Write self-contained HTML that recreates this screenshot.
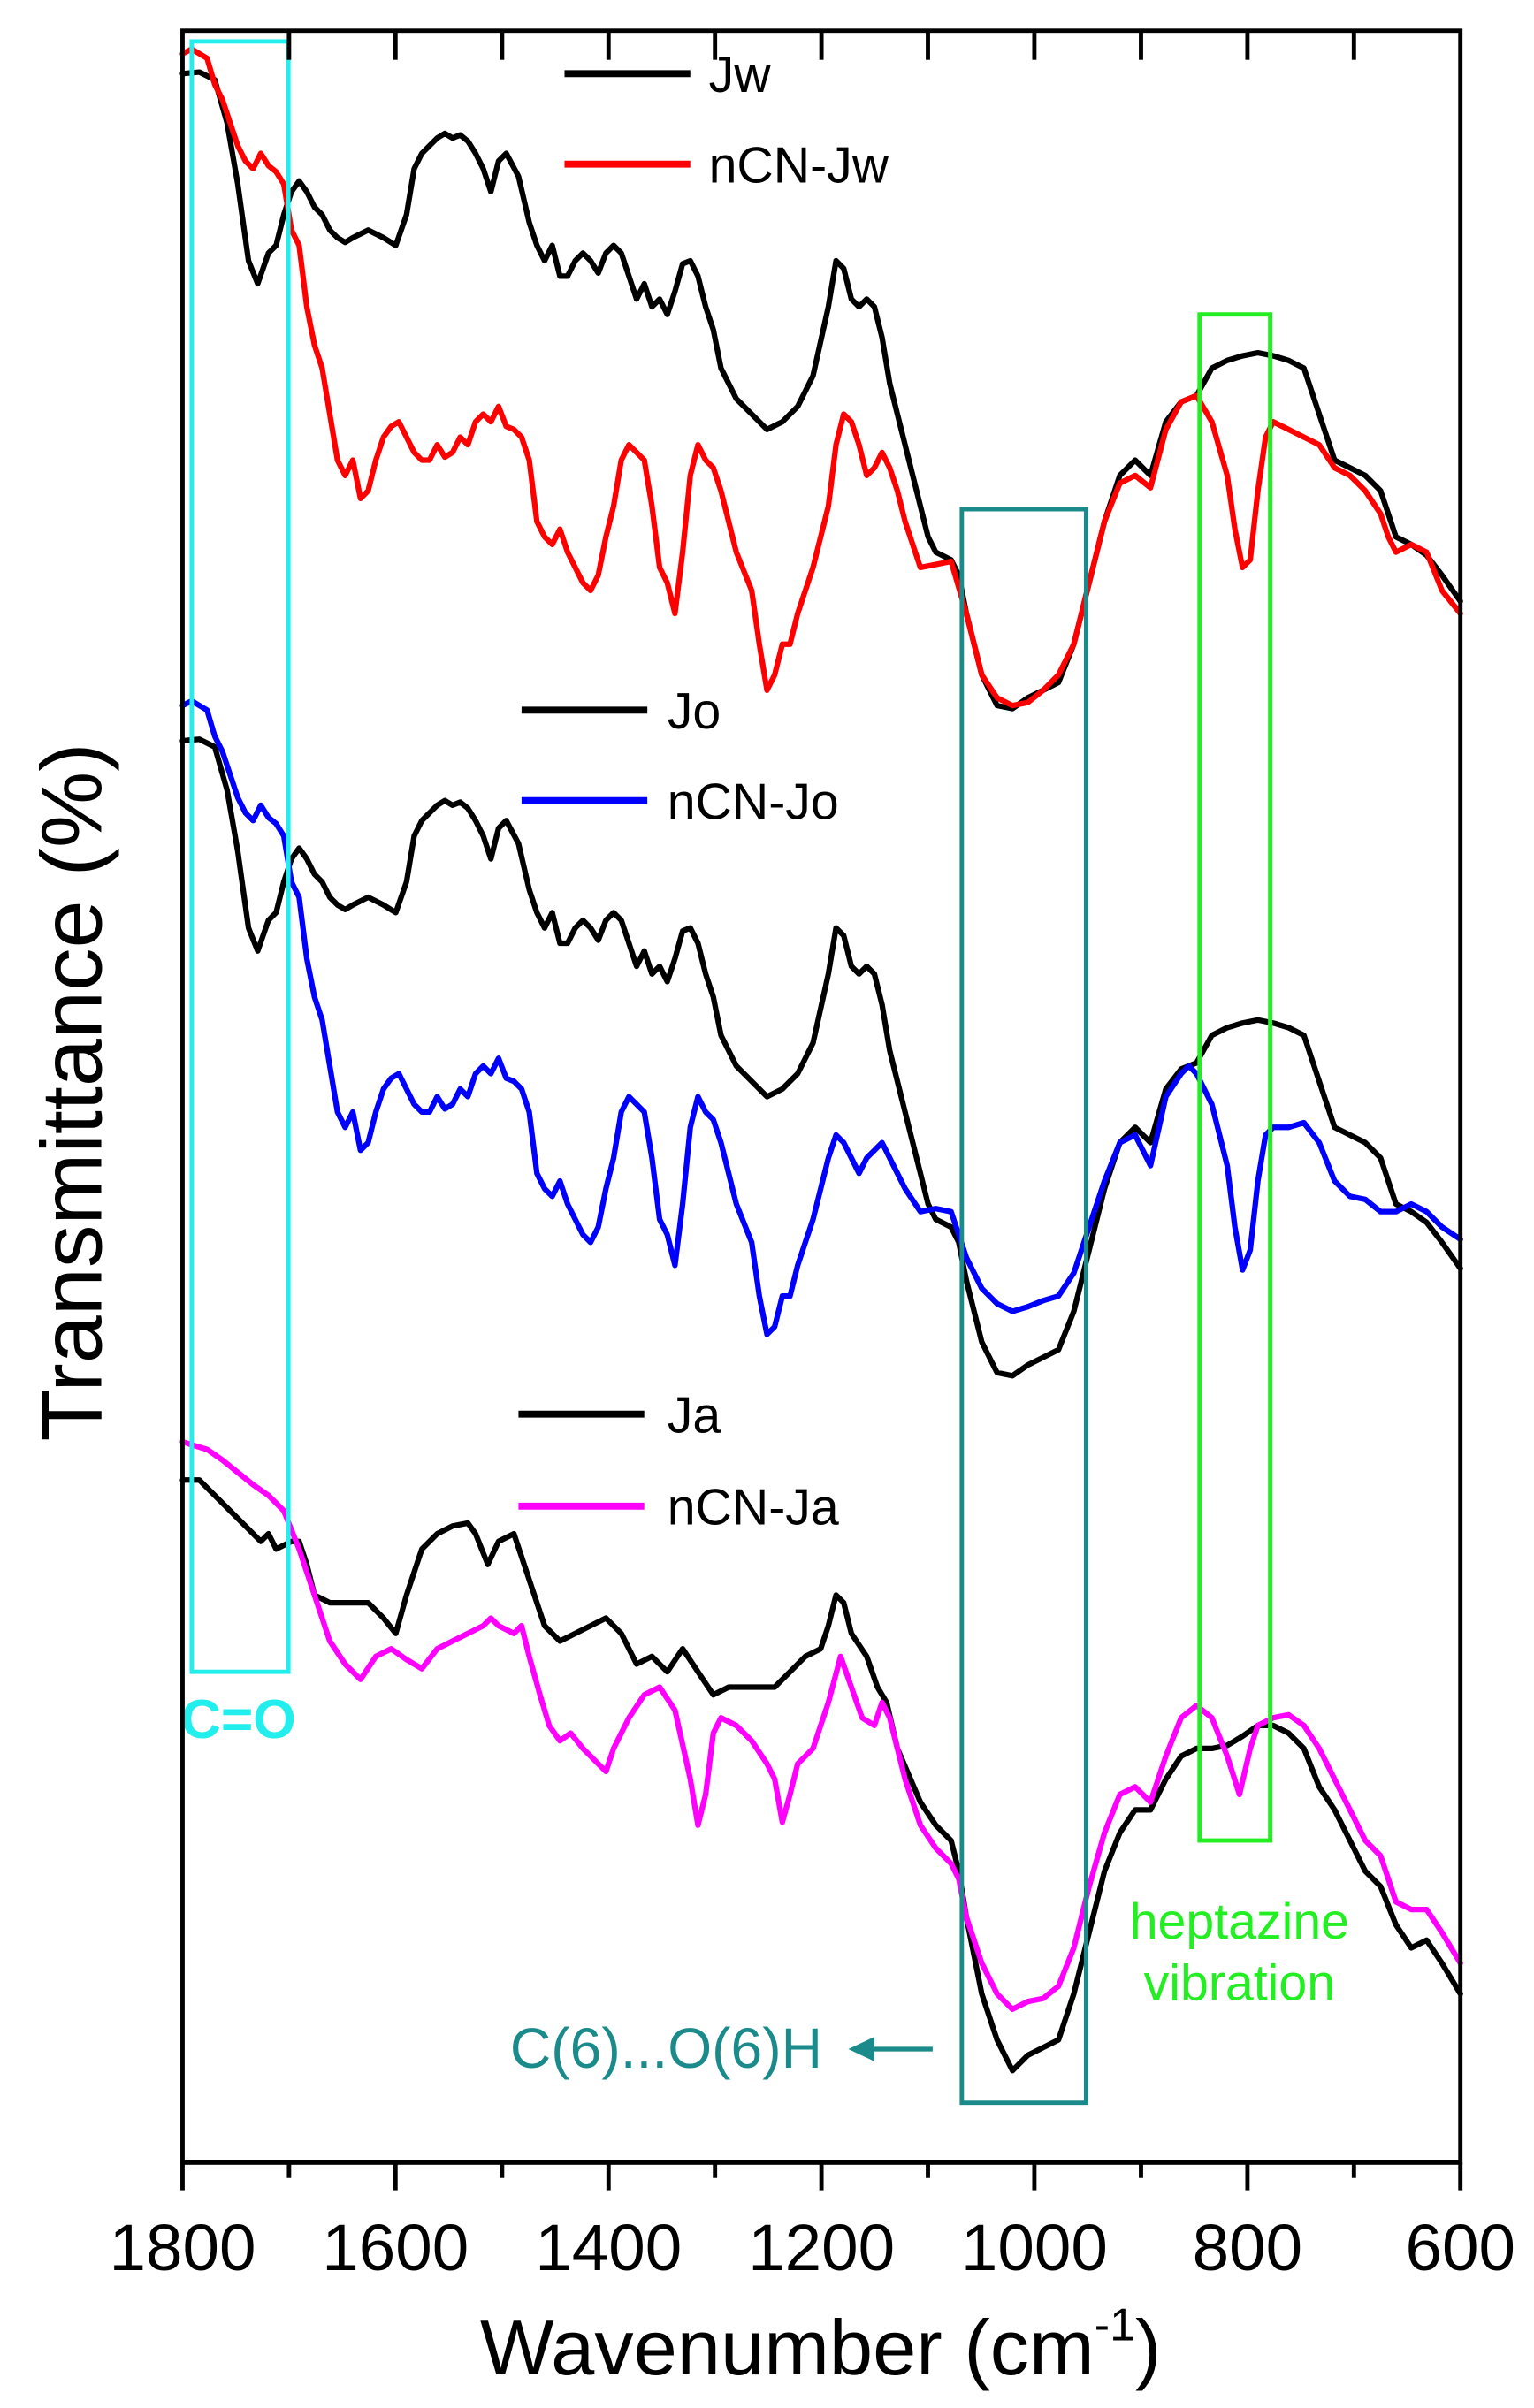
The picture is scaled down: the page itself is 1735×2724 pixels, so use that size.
<!DOCTYPE html>
<html><head><meta charset="utf-8"><style>
html,body{margin:0;padding:0;background:#fff;}
svg{display:block;}
text{font-family:"Liberation Sans",Arial,sans-serif;}
</style></head><body>
<svg width="1735" height="2724" viewBox="0 0 1000 1570" xmlns="http://www.w3.org/2000/svg">
<g fill="none" stroke-linejoin="round" stroke-linecap="round" stroke-width="3.6">
<polyline id="jw" stroke="#000" points="119,48 130,47 140,52 148,80 155,120 162,170 168,185 175,165 180,160 185,140 190,125 195,118 200,125 205,135 210,140 215,150 220,155 225,158 230,155 240,150 250,155 258,160 265,140 270,110 275,100 280,95 285,90 290,87 295,90 300,88 305,92 310,100 315,110 320,125 325,105 330,100 338,115 345,145 350,160 355,170 360,160 365,180 370,180 375,170 380,165 385,170 390,178 395,165 400,160 405,165 410,180 415,195 420,185 425,200 430,195 435,205 440,190 445,172 450,170 455,180 460,200 465,215 470,240 480,260 490,270 500,280 510,275 520,265 530,245 540,200 545,170 550,175 555,195 560,200 565,195 570,200 575,220 580,250 590,290 600,330 605,350 610,360 620,365 625,375 630,400 640,440 650,460 660,462 670,455 680,450 690,445 700,420 710,380 720,340 730,310 740,300 750,310 760,275 770,262 780,258 790,240 800,235 810,232 820,230 830,232 840,235 850,240 860,270 870,300 880,305 890,310 900,320 910,350 920,355 930,362 940,375 952,392"/>
<polyline stroke="#ff0000" points="119,35 125,32 130,35 135,38 140,55 145,65 150,80 155,95 160,105 165,110 170,100 175,108 180,112 185,120 190,150 195,160 200,200 205,225 210,240 215,270 220,300 225,310 230,300 235,325 240,320 245,300 250,285 255,278 260,275 265,285 270,295 275,300 280,300 285,290 290,298 295,295 300,285 305,290 310,275 315,270 320,275 325,265 330,278 335,280 340,285 345,300 350,340 355,350 360,355 365,345 370,360 375,370 380,380 385,385 390,375 395,350 400,330 405,300 410,290 415,295 420,300 425,330 430,370 435,380 440,400 445,360 450,310 455,290 460,300 465,305 470,320 480,360 490,385 495,420 500,450 505,440 510,420 515,420 520,400 530,370 540,330 545,290 550,270 555,275 560,290 565,310 570,305 575,295 580,305 585,320 590,340 600,370 610,368 620,366 630,400 640,440 650,455 660,460 670,458 680,450 690,440 700,420 710,380 720,340 730,315 740,310 750,318 760,280 770,262 780,258 790,275 800,310 805,345 810,370 815,365 820,320 825,285 830,275 840,280 850,285 860,290 870,305 880,310 890,320 900,335 905,350 910,360 920,355 930,360 940,385 952,400"/>
<use href="#jw" transform="translate(0,435)"/>
<polyline stroke="#0000ff" points="119,460 125,457 130,460 135,463 140,480 145,490 150,505 155,520 160,530 165,535 170,525 175,533 180,537 185,545 190,575 195,585 200,625 205,650 210,665 215,695 220,725 225,735 230,725 235,750 240,745 245,725 250,710 255,703 260,700 265,710 270,720 275,725 280,725 285,715 290,723 295,720 300,710 305,715 310,700 315,695 320,700 325,690 330,703 335,705 340,710 345,725 350,765 355,775 360,780 365,770 370,785 375,795 380,805 385,810 390,800 395,775 400,755 405,725 410,715 415,720 420,725 425,755 430,795 435,805 440,825 445,785 450,735 455,715 460,725 465,730 470,745 480,785 490,810 495,845 500,870 505,865 510,845 515,845 520,825 530,795 540,755 545,740 550,745 555,755 560,765 565,755 570,750 575,745 580,755 585,765 590,775 600,790 610,788 620,790 630,820 640,840 650,850 660,855 670,852 680,848 690,845 700,830 710,800 720,770 730,745 740,740 750,760 760,715 770,700 775,695 780,700 790,720 800,760 805,800 810,828 815,815 820,770 825,740 830,735 840,735 850,732 860,745 870,770 880,780 890,782 900,790 910,790 920,785 930,790 940,800 952,808"/>
<polyline stroke="#000" points="119,965 130,965 140,975 150,985 160,995 170,1005 175,1000 180,1010 190,1005 195,1005 200,1020 205,1040 215,1045 225,1045 240,1045 250,1055 258,1065 265,1040 275,1010 285,1000 295,995 305,993 310,1000 318,1020 325,1005 335,1000 345,1030 355,1060 365,1070 375,1065 385,1060 395,1055 405,1065 415,1085 425,1080 435,1090 445,1075 455,1090 465,1105 475,1100 490,1100 505,1100 515,1090 525,1080 535,1075 540,1060 545,1040 550,1045 555,1065 565,1080 572,1100 578,1110 585,1140 600,1175 610,1190 620,1200 625,1220 630,1250 640,1300 650,1330 660,1350 670,1340 680,1335 690,1330 700,1300 710,1260 720,1220 730,1195 740,1180 750,1180 760,1160 770,1145 780,1140 790,1140 800,1138 810,1132 820,1125 830,1125 840,1130 850,1140 860,1165 870,1180 880,1200 890,1220 900,1230 910,1255 920,1270 930,1265 940,1280 952,1300"/>
<polyline stroke="#ff00ff" points="119,940 125,942 135,945 145,952 155,960 165,968 175,975 185,985 195,1010 205,1040 215,1070 225,1085 235,1095 245,1080 255,1075 265,1082 275,1088 285,1075 295,1070 305,1065 315,1060 320,1055 325,1060 335,1065 340,1060 345,1080 352,1105 358,1125 365,1135 372,1130 380,1140 390,1150 395,1155 400,1140 410,1120 420,1105 430,1100 440,1115 450,1160 455,1190 460,1170 465,1130 470,1120 480,1125 490,1135 500,1150 505,1160 510,1188 515,1170 520,1150 530,1140 540,1110 548,1080 555,1100 562,1120 570,1125 575,1110 580,1120 590,1160 600,1190 610,1205 620,1215 625,1225 630,1250 640,1280 650,1300 660,1310 670,1305 680,1303 690,1295 700,1270 710,1230 720,1195 730,1170 740,1165 750,1175 760,1145 770,1120 780,1112 790,1120 800,1145 808,1170 815,1140 820,1125 830,1120 840,1118 850,1125 860,1140 870,1160 880,1180 890,1200 900,1210 910,1240 920,1245 930,1245 940,1260 952,1280"/>
</g>
<rect x="125" y="27" width="63" height="1063" fill="none" stroke="#22eeee" stroke-width="2.8"/>
<rect x="627" y="332" width="81" height="1039" fill="none" stroke="#1a8a8a" stroke-width="2.8"/>
<rect x="782" y="205" width="46" height="995" fill="none" stroke="#22ee22" stroke-width="2.8"/>
<g stroke-width="4.5">
<line x1="368" y1="48" x2="450" y2="48" stroke="#000"/>
<line x1="368" y1="107" x2="450" y2="107" stroke="#ff0000"/>
<line x1="340" y1="463" x2="422" y2="463" stroke="#000"/>
<line x1="340" y1="522" x2="422" y2="522" stroke="#0000ff"/>
<line x1="338" y1="922" x2="420" y2="922" stroke="#000"/>
<line x1="338" y1="982" x2="420" y2="982" stroke="#ff00ff"/>
</g>
<g font-size="33" fill="#000">
<text x="462" y="60">Jw</text>
<text x="462" y="119">nCN-Jw</text>
<text x="435" y="475">Jo</text>
<text x="435" y="534">nCN-Jo</text>
<text x="435" y="934">Ja</text>
<text x="435" y="994">nCN-Ja</text>
</g>
<text x="118" y="1133" font-size="36" font-weight="bold" fill="#22eeee">C=O</text>
<text x="808" y="1264" font-size="33" fill="#22ee22" text-anchor="middle">heptazine</text>
<text x="808" y="1304" font-size="33" fill="#22ee22" text-anchor="middle">vibration</text>
<text x="536" y="1348" font-size="37" fill="#1a8a8a" text-anchor="end">C(6)...O(6)H</text>
<line x1="565" y1="1336" x2="608" y2="1336" stroke="#1a8a8a" stroke-width="3"/>
<polygon points="553,1336 570,1328 570,1344" fill="#1a8a8a"/>
<rect x="119" y="20" width="833" height="1390" fill="none" stroke="#000" stroke-width="2.8"/>
<g stroke="#000" stroke-width="2.8">
<line x1="119" y1="1410" x2="119" y2="1428"/><line x1="257.8" y1="1410" x2="257.8" y2="1428"/><line x1="396.7" y1="1410" x2="396.7" y2="1428"/><line x1="535.5" y1="1410" x2="535.5" y2="1428"/><line x1="674.3" y1="1410" x2="674.3" y2="1428"/><line x1="813.2" y1="1410" x2="813.2" y2="1428"/><line x1="952" y1="1410" x2="952" y2="1428"/>
<line x1="188.4" y1="1410" x2="188.4" y2="1420"/><line x1="327.3" y1="1410" x2="327.3" y2="1420"/><line x1="466.1" y1="1410" x2="466.1" y2="1420"/><line x1="604.9" y1="1410" x2="604.9" y2="1420"/><line x1="743.8" y1="1410" x2="743.8" y2="1420"/><line x1="882.6" y1="1410" x2="882.6" y2="1420"/>
<line x1="188.4" y1="20" x2="188.4" y2="39"/><line x1="257.8" y1="20" x2="257.8" y2="39"/><line x1="327.3" y1="20" x2="327.3" y2="39"/><line x1="396.7" y1="20" x2="396.7" y2="39"/><line x1="466.1" y1="20" x2="466.1" y2="39"/><line x1="535.5" y1="20" x2="535.5" y2="39"/><line x1="604.9" y1="20" x2="604.9" y2="39"/><line x1="674.3" y1="20" x2="674.3" y2="39"/><line x1="743.8" y1="20" x2="743.8" y2="39"/><line x1="813.2" y1="20" x2="813.2" y2="39"/><line x1="882.6" y1="20" x2="882.6" y2="39"/>
</g>
<g font-size="43" text-anchor="middle" fill="#000">
<text x="119" y="1480">1800</text><text x="257.8" y="1480">1600</text><text x="396.7" y="1480">1400</text><text x="535.5" y="1480">1200</text><text x="674.3" y="1480">1000</text><text x="813.2" y="1480">800</text><text x="952" y="1480">600</text>
</g>
<text x="535" y="1548" font-size="51" text-anchor="middle">Wavenumber (cm<tspan dy="-22" font-size="30">-1</tspan><tspan dy="22">)</tspan></text>
<text transform="translate(66,712) rotate(-90)" font-size="56" text-anchor="middle">Transmittance (%)</text>
</svg>
</body></html>
